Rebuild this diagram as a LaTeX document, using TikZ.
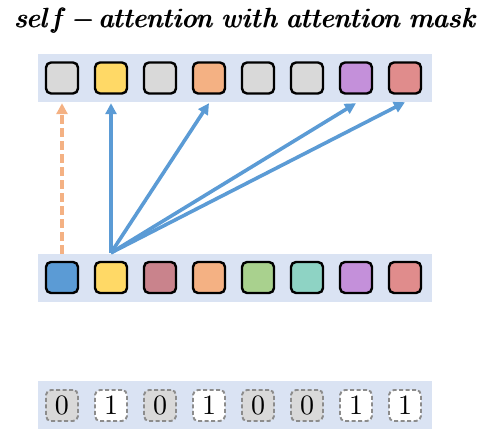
\documentclass[tikz,border=0pt]{standalone}
\usepackage{amsmath,bm}
\usetikzlibrary{arrows.meta}
\definecolor{bandc}{HTML}{DAE3F3}
\definecolor{cgray}{HTML}{D9D9D9}
\definecolor{cyellow}{HTML}{FFD966}
\definecolor{corange}{HTML}{F4B183}
\definecolor{cpurple}{HTML}{C490DA}
\definecolor{cred}{HTML}{E08C8C}
\definecolor{cblue}{HTML}{5B9BD5}
\definecolor{cmauve}{HTML}{C9838C}
\definecolor{cgreen}{HTML}{A9D18E}
\definecolor{cteal}{HTML}{8ED3C4}
\definecolor{carrow}{HTML}{5B9BD5}
\definecolor{cdash}{HTML}{8C8C8C}
\begin{document}
\begin{tikzpicture}[x=1pt,y=1pt,
  band/.style={fill=bandc,draw=none,minimum width=394pt,minimum height=48pt,inner sep=0pt},
  tok/.style={draw=black,line width=2.4pt,rounded corners=5pt,minimum width=32pt,minimum height=31pt,inner sep=0pt},
  mtok/.style={draw=cdash,dashed,dash pattern=on 4pt off 2.5pt,line width=1.9pt,rounded corners=5pt,minimum width=32pt,minimum height=31pt,inner sep=0pt},
  att/.style={draw=carrow,line width=3.6pt,-{Triangle[width=11pt,length=11pt]}},
  attd/.style={draw=corange,line width=3.6pt,dash pattern=on 9pt off 4pt,-{Triangle[width=11pt,length=11pt]}}]
\useasboundingbox (0,0) rectangle (491,441);
\node[inner sep=0pt,anchor=base] (title) at (247,413) {\resizebox{462pt}{!}{$\pmb{self - attention\ with\ attention\ mask}$}};
\node[band] (topband) at (235,363) {};
\node[band] (midband) at (235,163) {};
\node[band] (botband) at (235,35.5) {};
\foreach \i/\c in {1/cgray,2/cyellow,3/cgray,4/corange,5/cgray,6/cgray,7/cpurple,8/cred}{
  \node[tok,fill=\c] (t\i) at ({62+49*(\i-1)},363) {};
}
\foreach \i/\c in {1/cblue,2/cyellow,3/cmauve,4/corange,5/cgreen,6/cteal,7/cpurple,8/cred}{
  \node[tok,fill=\c] (m\i) at ({62+49*(\i-1)},163.5) {};
}
\foreach \i/\c/\v in {1/cgray/0,2/white/1,3/cgray/0,4/white/1,5/cgray/0,6/cgray/0,7/white/1,8/white/1}{
  \node[mtok,fill=\c] (b\i) at ({62+49*(\i-1)},35.5) {\scalebox{2.8}{\v}};
}
\coordinate (s1) at (m1 |- midband.north);
\coordinate (s2) at ([yshift=1pt]m2 |- midband.north);
\coordinate (e1) at ([yshift=-1pt]t1 |- topband.south);
\coordinate (e2) at ([yshift=-1pt]t2 |- topband.south);
\coordinate (e4) at ([yshift=-1pt]t4 |- topband.south);
\coordinate (e7) at ([yshift=-1pt]t7 |- topband.south);
\coordinate (e8) at ([yshift=0pt]t8 |- topband.south);
\draw[attd] (s1) -- (e1);
\draw[att] (s2) -- (e2);
\draw[att] (s2) -- (e4);
\draw[att] (s2) -- (e7);
\draw[att] (s2) -- (e8);
\end{tikzpicture}
\end{document}
